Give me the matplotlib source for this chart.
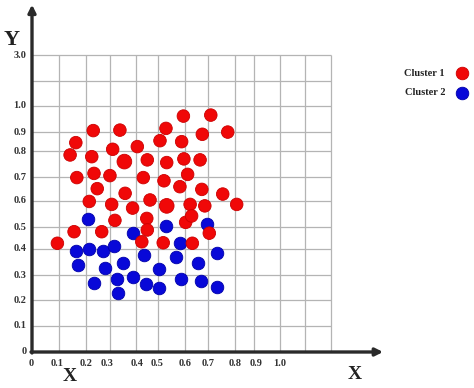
import matplotlib
matplotlib.use("Agg")
import matplotlib.pyplot as plt

# ---- data (values in axis units) ----
cluster1_x = [0.608, 0.718, 0.246, 0.353, 0.538, 0.684, 0.786, 0.176, 0.514, 0.601,
              0.324, 0.423, 0.153, 0.240, 0.371, 0.463, 0.541, 0.610, 0.675, 0.180,
              0.249, 0.313, 0.447, 0.530, 0.625, 0.262, 0.374, 0.594, 0.682, 0.766,
              0.230, 0.320, 0.474, 0.404, 0.541, 0.635, 0.694, 0.822, 0.333, 0.461,
              0.463, 0.617, 0.641, 0.169, 0.280, 0.441, 0.527, 0.644, 0.712, 0.102]
cluster1_y = [0.959, 0.963, 0.900, 0.902, 0.909, 0.885, 0.894, 0.851, 0.859, 0.855,
              0.824, 0.835, 0.801, 0.794, 0.774, 0.781, 0.770, 0.785, 0.781, 0.709,
              0.726, 0.717, 0.709, 0.696, 0.722, 0.664, 0.645, 0.672, 0.661, 0.642,
              0.612, 0.600, 0.618, 0.585, 0.594, 0.600, 0.594, 0.600, 0.535, 0.543,
              0.496, 0.527, 0.553, 0.489, 0.489, 0.448, 0.444, 0.442, 0.483, 0.442]
cluster1_big = [14, 34]  # indices of slightly larger markers

cluster2_x = [0.226, 0.702, 0.538, 0.404, 0.594, 0.177, 0.229, 0.284, 0.329, 0.451,
              0.578, 0.744, 0.186, 0.293, 0.367, 0.510, 0.668, 0.250, 0.343, 0.407,
              0.458, 0.510, 0.597, 0.678, 0.744, 0.344]
cluster2_y = [0.539, 0.520, 0.512, 0.483, 0.444, 0.411, 0.419, 0.411, 0.431, 0.394,
              0.387, 0.404, 0.354, 0.343, 0.361, 0.336, 0.361, 0.282, 0.297, 0.306,
              0.275, 0.261, 0.297, 0.289, 0.263, 0.241]

x_tick_labels = ["0", "0.1", "0.2", "0.3", "0.4", "0.5", "0.6", "0.7", "0.8", "0.9", "1.0"]
y_tick_labels = ["3.0", "1.0", "0.9", "0.8", "0.7", "0.6", "0.5", "0.4", "0.3", "0.2", "0.1", "0"]
legend_labels = ["Cluster 1", "Cluster 2"]

# ---- layout (positions, not data) ----
x_tick_pos = [-0.004, 0.100, 0.217, 0.301, 0.422, 0.502, 0.6145, 0.707, 0.815, 0.900, 0.996]
y_tick_pos = [1.207, 1.0, 0.894, 0.817, 0.711, 0.614, 0.508, 0.419, 0.313, 0.211, 0.106, 0.0]
grid_x = [0.108, 0.217, 0.313, 0.418, 0.506, 0.6145, 0.707, 0.815, 0.892, 0.996, 1.096, 1.201]
grid_y = [1.207, 1.102, 1.0, 0.894, 0.817, 0.711, 0.614, 0.508, 0.419, 0.313, 0.211, 0.106]

RED = "#f00808"
RED_E = "#cc0000"
BLUE = "#0808d8"
BLUE_E = "#0000aa"
SERIF = ["Liberation Serif", "DejaVu Serif"]

fig = plt.figure(figsize=(4.74, 3.88), dpi=100)
ax = fig.add_axes([0, 0, 1, 1])
ax.set_xlim(-32 / 249, 442 / 249)
ax.set_ylim(-36 / 246, 352 / 246)
ax.axis("off")

# grid
ax.vlines(grid_x, 0, grid_y[0], color="#b4b4b4", lw=0.9, zorder=1)
ax.hlines(grid_y, 0, grid_x[-1], color="#b4b4b4", lw=0.9, zorder=1)

# axes with arrows
ax.annotate("", xy=(0, 1.412), xytext=(0, -0.004),
            arrowprops=dict(arrowstyle="-|>", lw=2.4, color="#2a2a2a",
                            mutation_scale=11, shrinkA=0, shrinkB=0), zorder=5)
ax.annotate("", xy=(1.41, 0), xytext=(-0.004, 0),
            arrowprops=dict(arrowstyle="-|>", lw=2.4, color="#2a2a2a",
                            mutation_scale=11, shrinkA=0, shrinkB=0), zorder=5)

# points
ax.scatter(cluster2_x, cluster2_y, s=82, c=BLUE, edgecolors=BLUE_E, linewidths=0.6, zorder=3)
sizes1 = [112 if i in cluster1_big else 82 for i in range(len(cluster1_x))]
ax.scatter(cluster1_x, cluster1_y, s=sizes1, c=RED, edgecolors=RED_E, linewidths=0.6, zorder=4)

# tick labels
for p, lab in zip(x_tick_pos, x_tick_labels):
    ax.text(p, -0.045, lab, ha="center", va="center", fontsize=7.5,
            fontweight="bold", family=SERIF, color="#333333")
for p, lab in zip(y_tick_pos, y_tick_labels):
    ax.text(-0.022, p, lab, ha="right", va="center", fontsize=7.5,
            fontweight="bold", family=SERIF, color="#333333")

# axis letters
ax.text(-0.082, 1.270, "Y", ha="center", va="center", fontsize=16,
        fontweight="bold", family=SERIF, color="#222222")
ax.text(0.153, -0.098, "X", ha="center", va="center", fontsize=14,
        fontweight="bold", family=SERIF, color="#222222")
ax.text(1.297, -0.093, "X", ha="center", va="center", fontsize=14,
        fontweight="bold", family=SERIF, color="#222222")

# legend
leg_y = [1.134, 1.053]
for yy, lab, fc, ec in zip(leg_y, legend_labels, [RED, BLUE], [RED_E, BLUE_E]):
    ax.text(1.659, yy, lab, ha="right", va="center", fontsize=7.5,
            fontweight="bold", family=SERIF, color="#222222")
    ax.scatter([1.727], [yy], s=82, c=fc, edgecolors=ec, linewidths=0.6, zorder=4)

fig.savefig("out.png", dpi=100)
